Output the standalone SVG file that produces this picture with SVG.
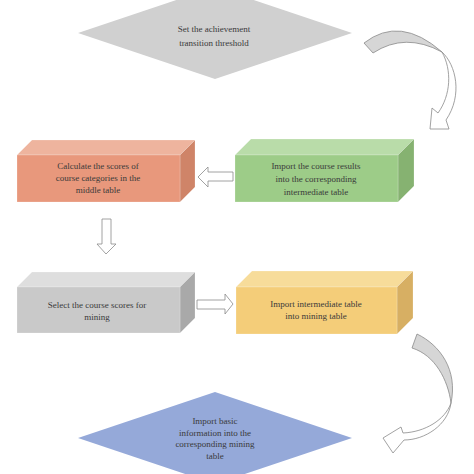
<svg xmlns="http://www.w3.org/2000/svg" width="474" height="474" viewBox="0 0 474 474">
<style>
text{font-family:"Liberation Serif","Times New Roman",serif;font-size:9px;fill:#3a3a3a;text-anchor:middle}
.arr{fill:#fff;stroke:#8a8a8a;stroke-width:0.8;stroke-linejoin:miter}
.band{fill:#d6d6d6;stroke:#8a8a8a;stroke-width:0.8}
.edge{stroke:#ffffff;stroke-opacity:0.35;stroke-width:0.6}
</style>
<rect width="474" height="474" fill="#ffffff"/>
<g id="threshold">
<polygon points="215,-13 352,33 215,79 78,33" fill="#d0d0d0"/>
<text x="214" y="32">Set the achievement</text>
<text x="214" y="46">transition threshold</text>
</g>
<g id="calc">
<polygon class="edge" points="17,155 32,140 195,140 180,155" fill="#eeb49e"/>
<polygon class="edge" points="180,155 195,140 195,187 180,202" fill="#cf8468"/>
<rect class="edge" x="17" y="155" width="163" height="47" fill="#e8987c"/>
<text x="98" y="169">Calculate the scores of</text>
<text x="98" y="181">course categories in the</text>
<text x="98" y="193">middle table</text>
</g>
<g id="importResults">
<polygon class="edge" points="235,155 251,139 414,139 398,155" fill="#b9dca9"/>
<polygon class="edge" points="398,155 414,139 414,186 398,202" fill="#86b271"/>
<rect class="edge" x="235" y="155" width="163" height="47" fill="#9dcc88"/>
<text x="316" y="169">Import the course results</text>
<text x="316" y="182">into the corresponding</text>
<text x="316" y="195">intermediate table</text>
</g>
<g id="select">
<polygon class="edge" points="17,287 32,272 195,272 180,287" fill="#dedede"/>
<polygon class="edge" points="180,287 195,272 195,318 180,333" fill="#a9a9a9"/>
<rect class="edge" x="17" y="287" width="163" height="46" fill="#c9c9c9"/>
<text x="97" y="308">Select the course scores for</text>
<text x="97" y="320">mining</text>
</g>
<g id="importMining">
<polygon class="edge" points="236,287 252,271 413,271 397,287" fill="#f7dc9a"/>
<polygon class="edge" points="397,287 413,271 413,318 397,334" fill="#d7af63"/>
<rect class="edge" x="236" y="287" width="161" height="47" fill="#f4cd79"/>
<text x="316" y="307">Import intermediate table</text>
<text x="316" y="319">into mining table</text>
</g>
<g id="basic">
<polygon points="215,392 352,438 215,484 78,438" fill="#95a9d9"/>
<text x="215" y="424">Import basic</text>
<text x="215" y="435.5">information into the</text>
<text x="215" y="447">corresponding mining</text>
<text x="215" y="459">table</text>
</g>
<g id="connectors">
<path class="band" d="M364,43 Q400,15 442,52 Q405,32 373,53 Z"/>
<path class="arr" d="M442,52 C456,65 463,95 446,120 L449,129 L430,129 L432,108 L438,113 C451,95 452,70 442,52 Z"/>
<path class="arr" d="M233,172 L208,172 L208,167 L198,177 L208,187 L208,181 L233,181 Z"/>
<path class="arr" d="M102,219 L111,219 L111,244 L116,244 L106,254 L97,244 L102,244 Z"/>
<path class="arr" d="M197,300 L225,300 L225,294 L233,304 L225,314 L225,309 L197,309 Z"/>
<path class="band" d="M417,334 C440,345 458,370 451,403 C448,380 435,355 412,348 Z"/>
<path class="arr" d="M451,403 C448,425 425,440 404,440 L393,453 L383,438 L401,427 L403,433 C425,432 445,420 451,403 Z"/>
</g>
</svg>
